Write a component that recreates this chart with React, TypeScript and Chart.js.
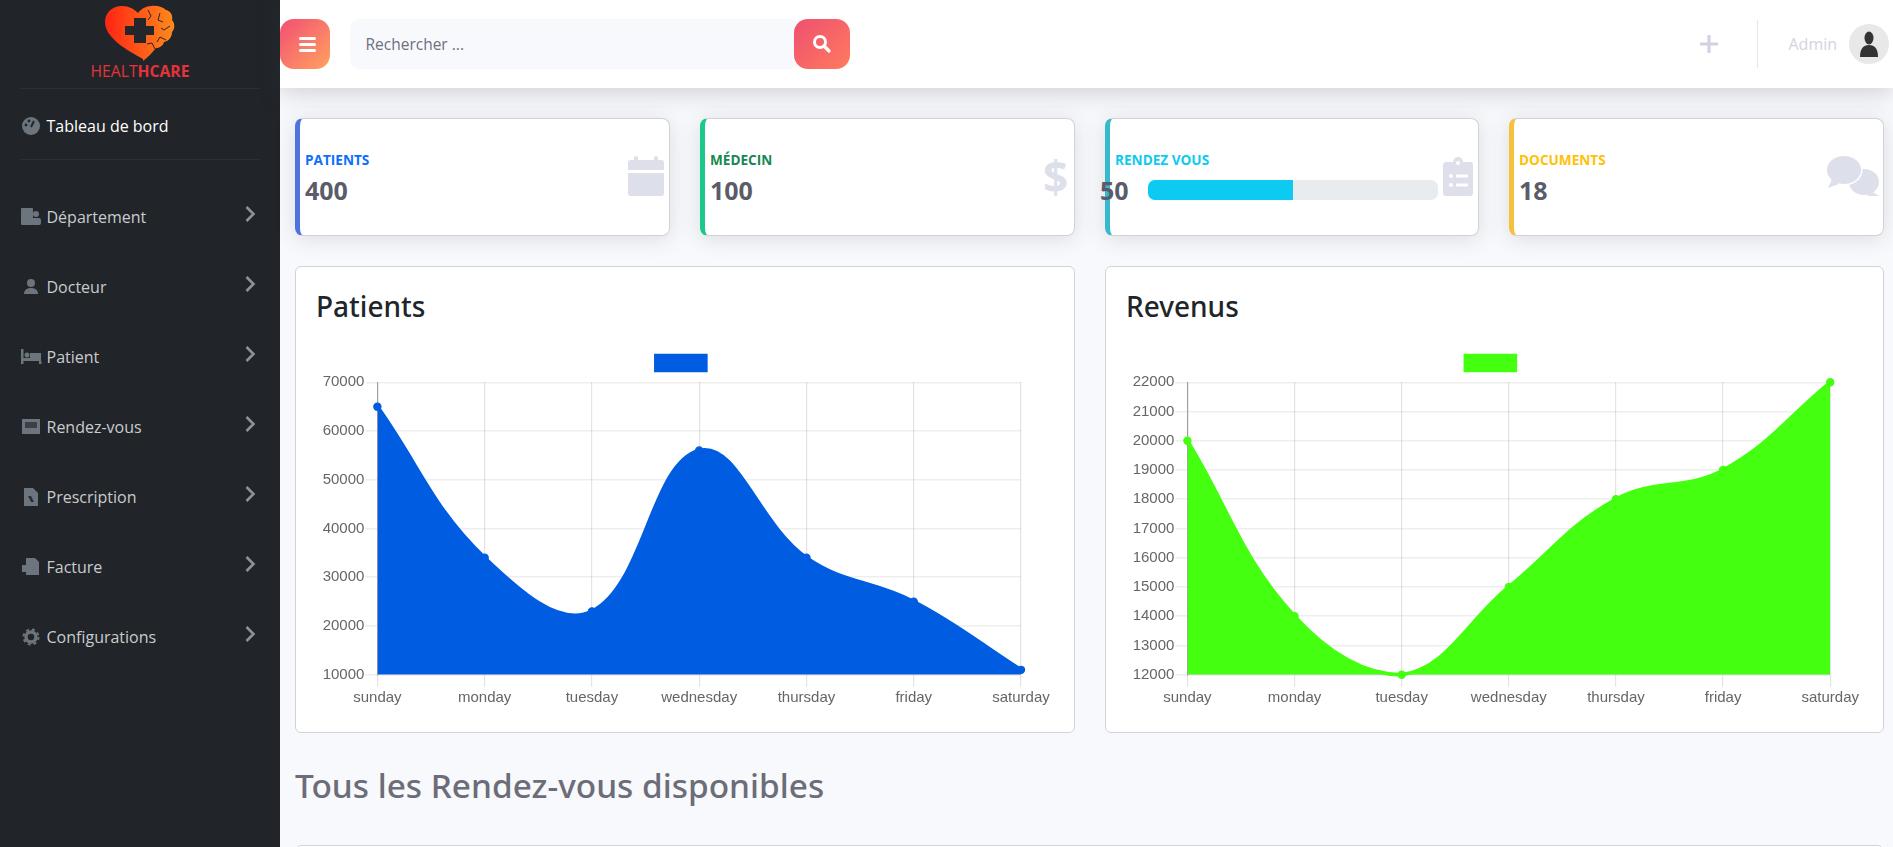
import React, { useEffect, useRef } from "react";
import { Chart, registerables } from "chart.js";

Chart.register(...registerables);

const categories = ["sunday", "monday", "tuesday", "wednesday", "thursday", "friday", "saturday"];
const patientValues = [65000, 34000, 23000, 56000, 34000, 25000, 11000];
const revenueValues = [20000, 14000, 12000, 15000, 18000, 19000, 22000];
const patientRange = [10000, 70000, 10000];
const revenueRange = [12000, 22000, 1000];
const menuLabels = ["Département", "Docteur", "Patient", "Rendez-vous", "Prescription", "Facture", "Configurations"];

const SANS = '"Open Sans", sans-serif';
const HEAD = '"Noto Sans", sans-serif';

// The legend is centred on the whole canvas, not on the part left by the right padding.
const centreLegend = {
  id: "centreLegend",
  afterLayout(chart: any) {
    if (chart.legend) {
      chart.legend.left = 0;
      chart.legend.right = chart.width + 2;
    }
  },
};

function LineChart(props: { left: number; width: number; pad: number; values: number[]; range: number[]; color: string }) {
  const ref = useRef<HTMLCanvasElement | null>(null);
  useEffect(() => {
    const chart = new Chart(ref.current as HTMLCanvasElement, {
      type: "line",
      plugins: [centreLegend],
      data: {
        labels: categories,
        datasets: [
          {
            label: "",
            data: props.values,
            backgroundColor: props.color,
            borderColor: props.color,
            borderWidth: 3.6,
            pointRadius: 3.6,
            pointBackgroundColor: props.color,
            pointBorderColor: props.color,
            pointBorderWidth: 1.2,
            tension: 0.4,
            fill: "start",
            clip: false as any,
          },
        ],
      },
      options: {
        responsive: false,
        animation: false,
        devicePixelRatio: 1,
        layout: { padding: { left: 0, right: props.pad, top: 0, bottom: 0 } },
        plugins: {
          tooltip: { enabled: false },
          legend: {
            display: true,
            position: "top",
            labels: { boxWidth: 50, boxHeight: 15, padding: 11.7, font: { size: 18.6, family: "Liberation Sans" } },
          },
        },
        scales: {
          x: {
            grid: { color: "rgba(0,0,0,0.11)", lineWidth: 1.2, tickLength: 12 },
            border: { color: "rgba(0,0,0,0.11)", width: 1.2 },
            ticks: { color: "#666", font: { size: 15, family: "Liberation Sans" }, padding: 2, maxRotation: 0, autoSkip: false },
            afterFit: (s: any) => {
              s.height = 53.3;
            },
          },
          y: {
            min: props.range[0],
            max: props.range[1],
            grid: { color: "rgba(0,0,0,0.065)", lineWidth: 1.6, tickLength: 12 },
            border: { color: "rgba(0,0,0,0.3)", width: 1.2 },
            ticks: {
              color: "#666",
              font: { size: 15, family: "Liberation Sans" },
              padding: 1,
              stepSize: props.range[2],
              callback: (v: any) => String(v),
            },
            afterFit: (s: any) => {
              s.width = 60.4;
            },
          },
        },
      },
    });
    return () => chart.destroy();
  }, []);
  return (
    <canvas
      ref={ref}
      width={props.width}
      height={386}
      style={{ position: "absolute", left: props.left, top: 342, width: props.width, height: 386 }}
    />
  );
}

function T(p: { x: number; y: number; s: number; c: string; w?: number; ls?: number; f?: string; children: any }) {
  return (
    <div
      style={{
        position: "absolute",
        left: p.x,
        top: p.y,
        transform: "translateY(-50%)",
        fontFamily: p.f || SANS,
        fontSize: p.s,
        fontWeight: p.w || 400,
        color: p.c,
        whiteSpace: "nowrap",
        lineHeight: 1.2,
        letterSpacing: p.ls || 0,
      }}
    >
      {p.children}
    </div>
  );
}

function Box(p: { x: number; y: number; w: number; h: number; style?: any; children?: any }) {
  return <div style={{ position: "absolute", left: p.x, top: p.y, width: p.w, height: p.h, boxSizing: "border-box", ...p.style }}>{p.children}</div>;
}

function Svg(p: { x: number; y: number; w: number; h: number; vb?: string; children: any }) {
  return (
    <svg style={{ position: "absolute", left: p.x, top: p.y }} width={p.w} height={p.h} viewBox={p.vb || `0 0 ${p.w} ${p.h}`}>
      {p.children}
    </svg>
  );
}

function StatCard(p: { x: number; w: number; border: string; label: string; color: string; value: string }) {
  return (
    <>
      <Box
        x={p.x}
        y={118}
        w={p.w}
        h={118}
        style={{
          background: "#fff",
          borderRadius: 8,
          border: "1px solid #d2d3d6",
          borderLeft: `5px solid ${p.border}`,
          boxShadow: "0 3px 21px rgba(58,59,69,.15)",
        }}
      />
      <T x={p.x + 10} y={159.7} s={13.6} c={p.color} w={700}>
        {p.label}
      </T>
      {p.value ? (
        <T x={p.x + 10} y={190} s={25} c="#5a5c69" w={700}>
          {p.value}
        </T>
      ) : null}
    </>
  );
}

function MenuIcon(p: { i: number; y: number }) {
  const c = "#6c757d";
  const shapes = [
    <>
      <rect x="0" y="1" width="12" height="17" rx="1" fill={c} />
      <circle cx="15" cy="7" r="3" fill={c} />
      <rect x="10" y="11" width="10" height="7" rx="2" fill={c} />
    </>,
    <>
      <circle cx="10" cy="6" r="4" fill={c} />
      <path d="M3 17c0-4 3-6 7-6s7 2 7 6z" fill={c} />
    </>,
    <>
      <rect x="0" y="2" width="2.5" height="15" fill={c} />
      <circle cx="6" cy="8" r="2.5" fill={c} />
      <rect x="9" y="6" width="11" height="5" fill={c} />
      <rect x="2" y="11" width="18" height="3" fill={c} />
      <rect x="18" y="14" width="2.5" height="3" fill={c} />
    </>,
    <>
      <rect x="1" y="2" width="18" height="15" fill={c} />
      <rect x="4" y="5" width="12" height="6" fill="#3c4045" />
    </>,
    <>
      <path d="M3 1h9l5 5v13H3z" fill={c} />
      <path d="M7 9h3l3 6H10z" fill="#2c3035" />
    </>,
    <>
      <path d="M5 1h9l4 4v13H5z" fill={c} />
      <rect x="1" y="8" width="11" height="7" fill={c} />
    </>,
    <>
      <circle cx="10" cy="10" r="5" fill="none" stroke={c} strokeWidth="3.4" />
      <circle cx="10" cy="10" r="7.5" fill="none" stroke={c} strokeWidth="2" strokeDasharray="3 3" />
    </>,
  ];
  return (
    <Svg x={21} y={p.y - 10} w={21} h={20}>
      {shapes[p.i]}
    </Svg>
  );
}

function ChartCard(p: { x: number; w: number; title: string; titleX: number; children: any }) {
  return (
    <>
      <Box x={p.x} y={266} w={p.w} h={467} style={{ background: "#fff", borderRadius: 6, border: "1px solid #d2d3d6" }} />
      <T x={p.titleX} y={307} s={28} c="#212529" w={500} f={HEAD}>
        {p.title}
      </T>
      {p.children}
    </>
  );
}

export default function App() {
  return (
    <div style={{ position: "fixed", left: 0, top: 0, width: 1893, height: 847, overflow: "hidden", background: "#f8f9fc" }}>
      {/* sidebar */}
      <Box x={0} y={0} w={280} h={847} style={{ background: "#212529" }} />
      <Svg x={100} y={4} w={80} h={58} vb="0 0 80 58">
        <defs>
          <linearGradient id="hg" x1="0" y1="0" x2="1" y2="0">
            <stop offset="0" stopColor="#ff2414" />
            <stop offset="1" stopColor="#ff8a1c" />
          </linearGradient>
        </defs>
        <path d="M43 55C27 46 5 34 5 18 5 8 13 2 22 2c7 0 12 3 16 7 3-4 8-7 13-7 6-1 12 1 15 4 5 1 7 6 6 10 3 3 3 9 0 12 0 5-3 9-8 10-1 4-5 6-8 6-4 5-8 9-13 13z" fill="url(#hg)" />
        <rect x="34" y="14" width="12" height="25" fill="#23272c" />
        <rect x="25" y="22" width="29" height="9" fill="#23272c" />
        <path d="M48 6l3 6-3 4M60 9l-2 7 5 2M70 22l-6 4-3-2M66 36l-6-3-3 5M55 45l-3-6-5 1" fill="none" stroke="#23272c" strokeWidth="1" />
      </Svg>
      <div style={{ position: "absolute", left: 90.5, top: 71, transform: "translateY(-50%)", fontFamily: SANS, fontSize: 15.7, color: "#e5323b", whiteSpace: "nowrap", lineHeight: 1.2 }}>
        HEALT<b>HCARE</b>
      </div>
      <Box x={20} y={88} w={240} h={1} style={{ background: "#2c3035" }} />
      <Box x={20} y={159} w={240} h={1} style={{ background: "#2c3035" }} />
      <Svg x={21} y={116} w={20} h={20}>
        <circle cx="10" cy="10" r="9" fill="#6c757d" />
        <path d="M10 11 L13 5" stroke="#212529" strokeWidth="2" />
        <circle cx="5" cy="9" r="1.4" fill="#212529" />
        <circle cx="8" cy="5" r="1.4" fill="#212529" />
      </Svg>
      <T x={46.5} y={126.5} s={16} c="#fff">
        Tableau de bord
      </T>
      {menuLabels.map((label, i) => {
        const y = 217 + i * 70;
        return (
          <React.Fragment key={label}>
            <MenuIcon i={i} y={y} />
            <T x={46.5} y={y + 0.5} s={16} c="#c9cbce">
              {label}
            </T>
            <Svg x={244} y={y - 12} w={12} h={18}>
              <path d="M2.5 2 L9.5 9 L2.5 16" fill="none" stroke="#8d9298" strokeWidth="2.6" />
            </Svg>
          </React.Fragment>
        );
      })}

      {/* header */}
      <Box x={280} y={0} w={1613} h={88} style={{ background: "#fff", boxShadow: "0 4px 24px rgba(58,59,69,.22)" }} />
      <Box x={280} y={19} w={50} h={50} style={{ borderRadius: 14, background: "linear-gradient(135deg,#f24f72,#ffa260)" }} />
      <Svg x={299} y={36} w={18} h={16}>
        <rect x="0" y="1" width="17" height="3" rx="1.5" fill="#fff" />
        <rect x="0" y="7" width="17" height="3" rx="1.5" fill="#fff" />
        <rect x="0" y="13" width="17" height="3" rx="1.5" fill="#fff" />
      </Svg>
      <Box x={350} y={19} w={450} h={50} style={{ borderRadius: 10, background: "#f8f9fc" }} />
      <T x={365.5} y={44} s={15.5} c="#6e707e">
        Rechercher ...
      </T>
      <Box x={794} y={19} w={56} h={50} style={{ borderRadius: 14, background: "linear-gradient(135deg,#ef5070,#ff7a5e)" }} />
      <Svg x={812} y={34} w={20} h={20}>
        <circle cx="8" cy="8" r="5.5" fill="none" stroke="#fff" strokeWidth="3" />
        <path d="M12 12 L17 17" stroke="#fff" strokeWidth="3.4" strokeLinecap="round" />
      </Svg>
      <Svg x={1700} y={35} w={18} h={18}>
        <path d="M9 1 V17 M1 9 H17" stroke="#d1d3e2" strokeWidth="3.2" strokeLinecap="round" />
      </Svg>
      <Box x={1757} y={20} w={1} h={48} style={{ background: "#e3e6f0" }} />
      <T x={1788.5} y={45} s={16} c="#d2d3e2">
        Admin
      </T>
      <Svg x={1849} y={24} w={40} h={40}>
        <circle cx="20" cy="20" r="20" fill="#e8e8e8" />
        <ellipse cx="20" cy="14" rx="4.5" ry="6.5" fill="#333" />
        <path d="M11 33c0-8 3-12 9-12s9 4 9 12z" fill="#333" />
      </Svg>

      {/* stat cards */}
      <StatCard x={295} w={375} border="#4e73df" label="PATIENTS" color="#0d6efd" value="400" />
      <StatCard x={700} w={375} border="#1cc88a" label="MÉDECIN" color="#198754" value="100" />
      <StatCard x={1105} w={374} border="#36b9cc" label="RENDEZ VOUS" color="#0dcaf0" value="" />
      <StatCard x={1509} w={375} border="#f6c23e" label="DOCUMENTS" color="#ffc107" value="18" />
      <T x={1100} y={190} s={25} c="#5a5c69" w={700}>
        50
      </T>
      <Box x={1148} y={180} w={290} h={20} style={{ borderRadius: 7, background: "#e9ecef", overflow: "hidden" }}>
        <div style={{ width: "50%", height: "100%", background: "#0dcaf0" }} />
      </Box>
      <Svg x={628} y={156} w={36} h={40}>
        <rect x="6" y="0" width="4" height="7" rx="2" fill="#dddfeb" />
        <rect x="26" y="0" width="4" height="7" rx="2" fill="#dddfeb" />
        <path d="M0 7a3 3 0 0 1 3-3h30a3 3 0 0 1 3 3v7H0z" fill="#dddfeb" />
        <path d="M0 17h36v20a3 3 0 0 1-3 3H3a3 3 0 0 1-3-3z" fill="#dddfeb" />
      </Svg>
      <T x={1043} y={176} s={44} c="#dddfeb" w={700}>
        $
      </T>
      <Svg x={1443} y={156} w={30} h={40}>
        <path d="M3 6h7a5 5 0 0 1 10 0h7a3 3 0 0 1 3 3v28a3 3 0 0 1-3 3H3a3 3 0 0 1-3-3V9a3 3 0 0 1 3-3z" fill="#dddfeb" />
        <circle cx="15" cy="7" r="2" fill="#fff" />
        <circle cx="8" cy="20" r="2" fill="#fff" />
        <circle cx="8" cy="29" r="2" fill="#fff" />
        <rect x="13" y="18.5" width="12" height="3" rx="1" fill="#fff" />
        <rect x="13" y="27.5" width="12" height="3" rx="1" fill="#fff" />
      </Svg>
      <Svg x={1827} y={156} w={52} h={40}>
        <ellipse cx="37" cy="26" rx="15" ry="13" fill="#dddfeb" />
        <path d="M44 35l8 5h-12z" fill="#dddfeb" />
        <ellipse cx="17" cy="14" rx="18.5" ry="15.5" fill="#fff" />
        <ellipse cx="17" cy="14" rx="17" ry="14" fill="#dddfeb" />
        <path d="M5 23l-4 9 11-4z" fill="#dddfeb" />
      </Svg>

      {/* charts */}
      <ChartCard x={295} w={780} title="Patients" titleX={316}>
        <LineChart left={317} width={735} pad={31} values={patientValues} range={patientRange} color="#005ce0" />
      </ChartCard>
      <ChartCard x={1105} w={779} title="Revenus" titleX={1126}>
        <LineChart left={1127} width={734} pad={30} values={revenueValues} range={revenueRange} color="#44ff0f" />
      </ChartCard>

      <T x={295} y={785} s={33.4} c="#6c6d78" w={500} f={HEAD}>
        Tous les Rendez-vous disponibles
      </T>
      <Box x={296} y={845} w={1587} h={10} style={{ background: "#fff", border: "1px solid #d2d3d6", borderRadius: 6 }} />
    </div>
  );
}
